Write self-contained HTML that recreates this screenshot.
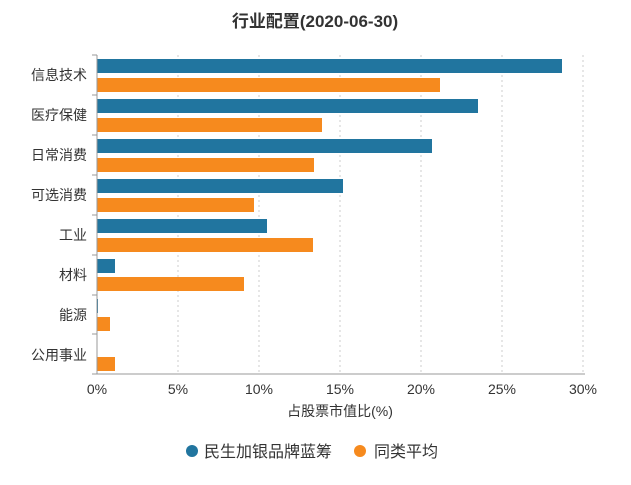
<!DOCTYPE html><html><head><meta charset="utf-8"><style>body{margin:0;background:#fff}</style></head><body>
<svg width="631" height="480" xmlns="http://www.w3.org/2000/svg" font-family="Liberation Sans, Noto Sans CJK SC, sans-serif">
<rect width="631" height="480" fill="#fff"/>
<text x="315" y="27" text-anchor="middle" font-size="17" font-weight="bold" fill="#333">行业配置(2020-06-30)</text>
<g stroke="#ccc" stroke-dasharray="2,3">
<line x1="178" y1="55" x2="178" y2="374"/><line x1="259" y1="55" x2="259" y2="374"/><line x1="340" y1="55" x2="340" y2="374"/><line x1="421" y1="55" x2="421" y2="374"/><line x1="502" y1="55" x2="502" y2="374"/><line x1="583" y1="55" x2="583" y2="374"/>
</g>
<g fill="#21759f">
<rect x="97" y="59" width="465" height="14"/>
<rect x="97" y="99" width="381" height="14"/>
<rect x="97" y="139" width="335" height="14"/>
<rect x="97" y="179" width="246" height="14"/>
<rect x="97" y="219" width="170" height="14"/>
<rect x="97" y="259" width="18" height="14"/>
<rect x="97" y="299" width="1" height="14"/>
</g>
<g fill="#f68a1e">
<rect x="97" y="78" width="343" height="14"/>
<rect x="97" y="118" width="225" height="14"/>
<rect x="97" y="158" width="217" height="14"/>
<rect x="97" y="198" width="157" height="14"/>
<rect x="97" y="238" width="216" height="14"/>
<rect x="97" y="277" width="147" height="14"/>
<rect x="97" y="317" width="13" height="14"/>
<rect x="97" y="357" width="18" height="14"/>
</g>
<g stroke="#999"><line x1="97" y1="55" x2="97" y2="374"/><line x1="97" y1="374" x2="585" y2="374"/>
<line x1="92" y1="55" x2="97" y2="55"/><line x1="92" y1="95" x2="97" y2="95"/><line x1="92" y1="135" x2="97" y2="135"/><line x1="92" y1="175" x2="97" y2="175"/><line x1="92" y1="215" x2="97" y2="215"/><line x1="92" y1="255" x2="97" y2="255"/><line x1="92" y1="295" x2="97" y2="295"/><line x1="92" y1="334" x2="97" y2="334"/><line x1="92" y1="374" x2="97" y2="374"/></g>
<g font-size="14" fill="#333" text-anchor="end">
<text x="87" y="80">信息技术</text><text x="87" y="120">医疗保健</text><text x="87" y="160">日常消费</text><text x="87" y="200">可选消费</text><text x="87" y="240">工业</text><text x="87" y="280">材料</text><text x="87" y="320">能源</text><text x="87" y="360">公用事业</text>
</g>
<g font-size="14" fill="#333" text-anchor="middle">
<text x="97" y="394">0%</text><text x="178" y="394">5%</text><text x="259" y="394">10%</text><text x="340" y="394">15%</text><text x="421" y="394">20%</text><text x="502" y="394">25%</text><text x="583" y="394">30%</text>
<text x="340" y="416" font-size="14">占股票市值比(%)</text>
</g>
<circle cx="192" cy="451" r="6" fill="#21759f"/>
<text x="204" y="457" font-size="16" fill="#333">民生加银品牌蓝筹</text>
<circle cx="360" cy="451" r="6" fill="#f68a1e"/>
<text x="374" y="457" font-size="16" fill="#333">同类平均</text>
</svg></body></html>
